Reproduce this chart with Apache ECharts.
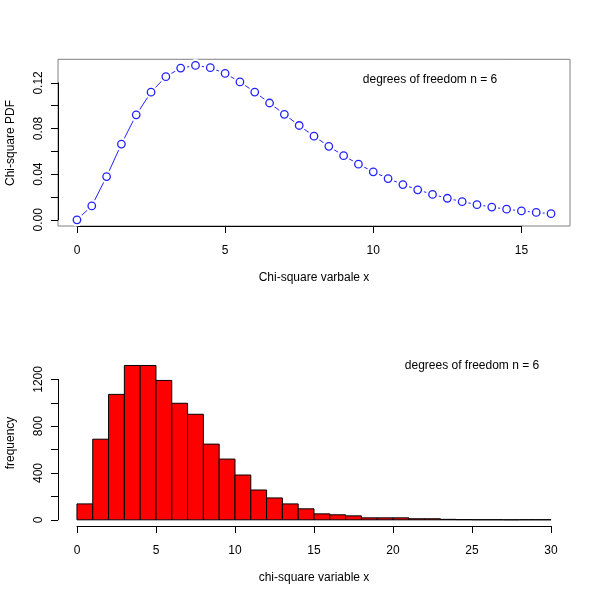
<!DOCTYPE html>
<html>
<head>
<meta charset="utf-8">
<script src="https://cdn.jsdelivr.net/npm/echarts@6/dist/echarts.min.js"></script>
<style>
  html, body { margin: 0; padding: 0; background: #fff; }
  #chart { width: 600px; height: 600px; }
</style>
</head>
<body>
<div id="chart"></div>
<script>
// top panel: chi-square pdf, df = 6
const pdfX = [0, 0.5, 1, 1.5, 2, 2.5, 3, 3.5, 4, 4.5, 5, 5.5, 6, 6.5, 7, 7.5, 8,
  8.5, 9, 9.5, 10, 10.5, 11, 11.5, 12, 12.5, 13, 13.5, 14, 14.5, 15, 15.5, 16];
const pdfY = [0, 0.0122, 0.0379, 0.0664, 0.092, 0.1119, 0.1255, 0.133, 0.1353,
  0.1334, 0.1283, 0.1209, 0.112, 0.1024, 0.0925, 0.0827, 0.0733, 0.0644, 0.0562,
  0.0488, 0.0421, 0.0362, 0.0309, 0.0263, 0.0223, 0.0189, 0.0159, 0.0133, 0.0112,
  0.0093, 0.0078, 0.0065, 0.0054];

// bottom panel: histogram, breaks of width 1 from 0 to 30
const histBreaks = [0, 1, 2, 3, 4, 5, 6, 7, 8, 9, 10, 11, 12, 13, 14, 15, 16,
  17, 18, 19, 20, 21, 22, 23, 24, 25, 26, 27, 28, 29, 30];
const histCounts = [136, 689, 1072, 1319, 1319, 1191, 996, 902, 647, 519, 383,
  255, 187, 136, 94, 51, 43, 34, 17, 17, 17, 9, 9, 4, 2, 1, 1, 0, 1, 1];

const annText = "degrees of freedom n = 6";
const FONT = "Liberation Sans";

// plot regions (same size for both panels, like par(mfrow=c(2,1)))
const PL = 58, PW = 512, PH = 166.7;
const topT = 59.3, botT = 359.3;

// R style 4% extension
const ext = (lo, hi) => [lo - 0.04 * (hi - lo), hi + 0.04 * (hi - lo)];
const topXR = ext(0, 16);
const topYR = ext(0, Math.max(...pdfY));
const botXR = ext(0, 30);
const botYR = ext(0, Math.max(...histCounts));

// sub grid for an axis drawn only over [a,b]
const subX = (r, a, b, top) => ({
  left: PL + (a - r[0]) / (r[1] - r[0]) * PW,
  width: (b - a) / (r[1] - r[0]) * PW,
  top: top, height: PH
});
const subY = (r, a, b, top) => ({
  left: PL, width: PW,
  top: top + (r[1] - b) / (r[1] - r[0]) * PH,
  height: (b - a) / (r[1] - r[0]) * PH
});

const hidden = { show: false };
const txt = { fontFamily: FONT, fontSize: 12, color: "#000" };

const xAxisVis = (gi, min, max, interval) => ({
  gridIndex: gi, type: "value", min: min, max: max, interval: interval,
  splitLine: { show: false },
  axisLine: { show: true, lineStyle: { color: "#000", width: 1 } },
  axisTick: { show: true, inside: false, length: 7, lineStyle: { color: "#000" } },
  axisLabel: Object.assign({ margin: 19 }, txt)
});
const yAxisVis = (gi, min, max, interval, every, digits) => ({
  gridIndex: gi, type: "value", min: min, max: max, interval: interval,
  splitLine: { show: false },
  axisLine: { show: true, lineStyle: { color: "#000", width: 1 } },
  axisTick: { show: true, inside: false, length: 7, lineStyle: { color: "#000" } },
  axisLabel: Object.assign({
    margin: 13, rotate: 90,
    formatter: (v) => {
      const k = Math.round(v / interval);
      return k % every === 0 ? (k * interval).toFixed(digits) : "";
    }
  }, txt)
});
const hiddenAxis = (gi, min, max) => ({
  gridIndex: gi, type: "value", min: min, max: max,
  axisLine: hidden, axisTick: hidden, axisLabel: hidden, splitLine: hidden
});

const chart = echarts.init(document.getElementById("chart"), null, { renderer: "canvas" });

chart.setOption({
  backgroundColor: "#fff",
  animation: false,
  grid: [
    { left: PL, top: topT, width: PW, height: PH, show: true,
      borderColor: "#808080", borderWidth: 1, backgroundColor: "transparent" },
    subX(topXR, 0, 15, topT),
    subY(topYR, 0, 0.12, topT),
    { left: PL, top: botT, width: PW, height: PH },
    subX(botXR, 0, 30, botT),
    subY(botYR, 0, 1200, botT)
  ],
  xAxis: [
    hiddenAxis(0, topXR[0], topXR[1]),
    xAxisVis(1, 0, 15, 5),
    hiddenAxis(2, 0, 1),
    hiddenAxis(3, botXR[0], botXR[1]),
    xAxisVis(4, 0, 30, 5),
    hiddenAxis(5, 0, 1)
  ],
  yAxis: [
    hiddenAxis(0, topYR[0], topYR[1]),
    hiddenAxis(1, 0, 1),
    yAxisVis(2, 0, 0.12, 0.02, 2, 2),
    hiddenAxis(3, botYR[0], botYR[1]),
    hiddenAxis(4, 0, 1),
    yAxisVis(5, 0, 1200, 200, 2, 0)
  ],
  series: [
    {
      // line with gaps around the points (type = "b")
      type: "line", xAxisIndex: 0, yAxisIndex: 0,
      data: pdfX.map((x, i) => [x, pdfY[i]]),
      symbol: "circle", symbolSize: 13,
      itemStyle: { color: "#fff", borderWidth: 0 },
      lineStyle: { color: "#2222ff", width: 1 },
      z: 2
    },
    {
      type: "scatter", xAxisIndex: 0, yAxisIndex: 0,
      data: pdfX.map((x, i) => [x, pdfY[i]]),
      symbol: "circle", symbolSize: 7.5,
      itemStyle: { color: "rgba(0,0,0,0)", borderColor: "#2222ff", borderWidth: 1.3, opacity: 1 },
      z: 3
    },
    {
      type: "custom", xAxisIndex: 3, yAxisIndex: 3,
      data: histCounts.map((c, i) => [histBreaks[i], histBreaks[i + 1], c]),
      renderItem: (params, api) => {
        const p0 = api.coord([api.value(0), 0]);
        const p1 = api.coord([api.value(1), api.value(2)]);
        return {
          type: "rect",
          shape: { x: p0[0], y: p1[1], width: p1[0] - p0[0], height: p0[1] - p1[1] },
          style: { fill: "#ff0000", stroke: "#000", lineWidth: 1 }
        };
      }
    }
  ],
  graphic: [
    { type: "text", x: 314, y: 278,
      style: Object.assign({ text: "Chi-square varbale x", align: "center", verticalAlign: "middle" }, txt) },
    { type: "text", x: 11, y: 143, rotation: Math.PI / 2,
      style: Object.assign({ text: "Chi-square PDF", align: "center", verticalAlign: "middle" }, txt) },
    { type: "text", x: 430, y: 80,
      style: Object.assign({ text: annText, align: "center", verticalAlign: "middle" }, txt) },
    { type: "text", x: 314, y: 578,
      style: Object.assign({ text: "chi-square variable x", align: "center", verticalAlign: "middle" }, txt) },
    { type: "text", x: 11, y: 443, rotation: Math.PI / 2,
      style: Object.assign({ text: "frequency", align: "center", verticalAlign: "middle" }, txt) },
    { type: "text", x: 472, y: 366,
      style: Object.assign({ text: annText, align: "center", verticalAlign: "middle" }, txt) }
  ]
});
</script>
</body>
</html>
